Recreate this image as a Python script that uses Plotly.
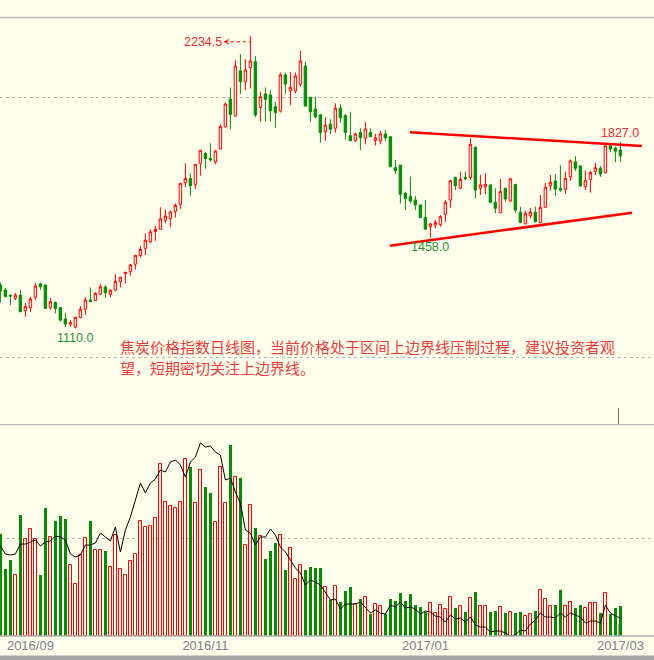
import plotly.graph_objects as go

# ---------------- data ----------------
opens = [1277, 1258, 1238, 1226, 1238, 1178, 1190, 1230, 1281, 1277,
         1191, 1210, 1190, 1146, 1127, 1115, 1152, 1184, 1219, 1217,
         1242, 1269, 1241, 1257, 1290, 1320, 1328, 1357, 1390, 1418,
         1443, 1483, 1491, 1526, 1533, 1560, 1587, 1670, 1687, 1664,
         1745, 1783, 1764, 1750, 1800, 1885, 1992, 1928, 2101, 2059,
         2113, 2136, 1960, 2012, 2008, 1963, 1946, 2085, 2024, 2023,
         2049, 2119, 1999, 1954, 1931, 1867, 1896, 1880, 1957, 1928,
         1851, 1832, 1863, 1841, 1863, 1833, 1831, 1858, 1847, 1728,
         1738, 1630, 1617, 1604, 1585, 1537, 1501, 1508, 1510, 1549,
         1604, 1690, 1649, 1691, 1690, 1807, 1649, 1654, 1662, 1595,
         1555, 1649, 1600, 1664, 1557, 1512, 1543, 1557, 1517, 1576,
         1659, 1677, 1649, 1645, 1693, 1751, 1735, 1655, 1683, 1713,
         1726, 1709, 1812, 1803, 1796]
highs = [1286, 1265, 1239, 1246, 1258, 1208, 1232, 1285, 1286, 1279,
         1227, 1213, 1190, 1170, 1142, 1155, 1196, 1230, 1268, 1250,
         1281, 1277, 1260, 1319, 1309, 1326, 1358, 1392, 1427, 1476,
         1491, 1504, 1576, 1568, 1563, 1591, 1670, 1745, 1707, 1742,
         1796, 1788, 1822, 1796, 1895, 1978, 2037, 2142, 2165, 2146,
         2234.5, 2158, 2020, 2037, 2027, 1982, 2094, 2094, 2095, 2094,
         2178, 2136, 2001, 2001, 1935, 1922, 1915, 1976, 1972, 1935,
         1943, 1863, 1880, 1903, 1880, 1858, 1869, 1873, 1848, 1758,
         1739, 1636, 1694, 1620, 1586, 1604, 1515, 1527, 1546, 1604,
         1681, 1694, 1713, 1713, 1841, 1808, 1700, 1707, 1663, 1649,
         1685, 1651, 1690, 1665, 1578, 1562, 1574, 1578, 1623, 1670,
         1700, 1704, 1738, 1713, 1760, 1773, 1736, 1717, 1717, 1747,
         1735, 1819, 1819, 1809, 1827]
lows = [1209, 1231, 1200, 1219, 1174, 1155, 1174, 1219, 1258, 1185,
        1181, 1168, 1136, 1114, 1117, 1110, 1149, 1162, 1212, 1215,
        1238, 1227, 1230, 1255, 1268, 1283, 1313, 1337, 1382, 1392,
        1440, 1447, 1490, 1514, 1499, 1536, 1570, 1653, 1620, 1647,
        1697, 1724, 1751, 1742, 1799, 1883, 1876, 1924, 2012, 2027,
        2033, 1922, 1905, 1905, 1905, 1882, 1940, 2012, 1969, 2014,
        2040, 1965, 1905, 1918, 1824, 1832, 1857, 1863, 1901, 1837,
        1832, 1828, 1796, 1818, 1847, 1813, 1818, 1831, 1731, 1704,
        1591, 1565, 1591, 1565, 1534, 1488, 1458, 1495, 1501, 1520,
        1574, 1642, 1645, 1681, 1681, 1610, 1623, 1626, 1594, 1553,
        1554, 1597, 1597, 1555, 1514, 1511, 1533, 1518, 1514, 1575,
        1640, 1619, 1636, 1626, 1677, 1715, 1655, 1642, 1632, 1700,
        1693, 1706, 1787, 1749, 1751]
closes = [1254, 1232, 1235, 1238, 1174, 1194, 1223, 1273, 1270, 1187,
          1213, 1187, 1142, 1127, 1132, 1153, 1184, 1219, 1213, 1245,
          1270, 1247, 1257, 1291, 1307, 1326, 1354, 1391, 1414, 1449,
          1481, 1491, 1531, 1542, 1558, 1583, 1668, 1687, 1659, 1741,
          1795, 1763, 1758, 1792, 1886, 1973, 1933, 2119, 2059, 2104,
          2138, 1931, 2001, 1991, 1947, 1940, 2085, 2050, 2037, 2081,
          2138, 1965, 1943, 1924, 1863, 1892, 1876, 1957, 1920, 1864,
          1832, 1858, 1843, 1877, 1847, 1843, 1858, 1843, 1732, 1717,
          1626, 1610, 1600, 1585, 1536, 1492, 1512, 1517, 1540, 1595,
          1678, 1659, 1683, 1685, 1818, 1642, 1662, 1664, 1595, 1572,
          1636, 1608, 1685, 1565, 1518, 1553, 1557, 1520, 1576, 1653,
          1672, 1646, 1642, 1687, 1754, 1726, 1658, 1678, 1709, 1728,
          1704, 1812, 1800, 1792, 1774]
# volume (thousand lots) and open interest (scaled) for the lower panel
volume = [102, 67, 76, 61, 121, 97, 107, 97, 61, 128,
          99, 115, 120, 117, 71, 52, 81, 98, 115, 86,
          86, 85, 69, 101, 67, 61, 75, 82, 115, 109,
          110, 118, 172, 134, 130, 128, 134, 177, 169, 133,
          166, 149, 143, 114, 169, 133, 191, 159, 158, 91,
          131, 108, 100, 77, 85, 93, 101, 66, 88, 57,
          71, 66, 69, 68, 68, 49, 36, 50, 34, 45,
          49, 32, 37, 39, 22, 32, 30, 22, 37, 35,
          43, 35, 42, 31, 29, 24, 33, 23, 31, 27,
          39, 28, 30, 24, 38, 44, 30, 30, 24, 25,
          29, 23, 24, 23, 24, 20, 22, 25, 46, 37,
          30, 31, 46, 30, 34, 28, 31, 28, 33, 33,
          23, 43, 22, 28, 30]
open_interest = [90, 82, 81, 82, 92, 92, 94, 96, 90, 94,
                 95, 100, 99, 96, 82, 79, 81, 91, 91, 93,
                 103, 99, 95, 109, 84, 106, 119, 136, 153, 143,
                 153, 157, 166, 164, 174, 176, 171, 159, 174, 179,
                 193, 189, 190, 184, 181, 156, 158, 144, 133, 106,
                 103, 91, 99, 99, 107, 101, 89, 84, 76, 68,
                 63, 51, 56, 54, 51, 43, 36, 37, 27, 32,
                 32, 32, 34, 29, 23, 26, 23, 22, 31, 29,
                 34, 28, 29, 27, 22, 25, 24, 20, 19, 14,
                 21, 17, 18, 14, 19, 11, 9, 9, 4, 5,
                 5, 3, 0, 1, 6, 5, 12, 16, 23, 19,
                 19, 18, 23, 19, 23, 21, 19, 13, 15, 15,
                 13, 31, 23, 20, 18]
tick_index = [6, 41, 85, 124]
tick_labels = ["2016/09", "2016/11", "2017/01", "2017/03"]
# hand-drawn channel lines: (bar index, price) end points
upper_line_x = [81.9, 128.3]
upper_line_y = [1864, 1812]
lower_line_x = [77.9, 126.3]
lower_line_y = [1428, 1555]
# marked extremes: (bar index, price, label)
peak = (50, 2234.5, "2234.5")
low1 = (15, 1110.0, "1110.0")
low2 = (86, 1458.0, "1458.0")
high2 = (124, 1827.0, "1827.0")
note_line1 = "焦炭价格指数日线图，当前价格处于区间上边界线压制过程，建议投资者观"
note_line2 = "望，短期密切关注上边界线。"

# ---------------- style ----------------
W, H = 654, 660
BG = "#FFFFEC"
RED = "#FF0000"
GREEN = "#088C08"
TXT_RED = "#EE2A36"
TXT_GREEN = "#1F963C"
GRID = "#B4B4B4"


def py(px):  # pixel row -> paper fraction
    return 1 - px / H


idx = list(range(len(opens)))
up = [c >= o for o, c in zip(opens, closes)]

fig = go.Figure()
fig.add_trace(go.Candlestick(
    x=idx, open=opens, high=highs, low=lows, close=closes,
    increasing=dict(line=dict(color=RED, width=1), fillcolor=BG),
    decreasing=dict(line=dict(color=GREEN, width=1), fillcolor=GREEN),
    whiskerwidth=0, showlegend=False, hoverinfo="skip", yaxis="y"))

fig.add_trace(go.Bar(
    x=[i for i in idx if up[i]], y=[volume[i] for i in idx if up[i]],
    width=0.55, marker=dict(color=BG, line=dict(color=RED, width=1)),
    yaxis="y2", showlegend=False, hoverinfo="skip"))
fig.add_trace(go.Bar(
    x=[i for i in idx if not up[i]], y=[volume[i] for i in idx if not up[i]],
    width=0.6, marker=dict(color=GREEN, line=dict(color=GREEN, width=0)),
    yaxis="y2", showlegend=False, hoverinfo="skip"))
fig.add_trace(go.Scatter(
    x=idx, y=open_interest, mode="lines", line=dict(color="#000000", width=1),
    yaxis="y2", showlegend=False, hoverinfo="skip"))

# channel lines
for xs, ys in [(upper_line_x, upper_line_y), (lower_line_x, lower_line_y)]:
    fig.add_trace(go.Scatter(x=xs, y=ys, mode="lines",
                             line=dict(color=RED, width=2.5),
                             yaxis="y", showlegend=False, hoverinfo="skip"))

shapes = []
# panel frame lines
for yy, col in [(17.5, "#BBBBBB"), (424.7, "#BBBBBB"), (636, "#B0B0B0")]:
    shapes.append(dict(type="line", xref="paper", yref="paper", x0=0, x1=1,
                       y0=py(yy), y1=py(yy), line=dict(color=col, width=1.3)))
shapes.append(dict(type="rect", xref="paper", yref="paper", x0=0, x1=1,
                   y0=0, y1=py(655.5), fillcolor="#A6A6A6", line=dict(width=0)))
# cursor ticks
shapes.append(dict(type="line", xref="paper", yref="paper", x0=618.5 / W, x1=618.5 / W,
                   y0=py(408), y1=py(424), line=dict(color="#707070", width=1)))
shapes.append(dict(type="line", xref="paper", yref="paper", x0=618.5 / W, x1=618.5 / W,
                   y0=py(624), y1=py(636), line=dict(color="#A0A0A0", width=1)))
# dashed leader for the peak label
shapes.append(dict(type="line", xref="x", yref="y", x0=peak[0] - 5.1, x1=peak[0] - 0.1,
                   y0=peak[1] - 22, y1=peak[1] - 22,
                   line=dict(color=RED, width=1, dash="dot")))

ann = []
NUMFONT = "Liberation Sans"
ann.append(dict(x=peak[0] - 5.3, y=peak[1] - 22, xref="x", yref="y", text=peak[2],
                showarrow=False, xanchor="right", yanchor="middle",
                font=dict(family=NUMFONT, size=12.5, color=TXT_RED)))
ann.append(dict(x=peak[0] - 5.35, y=peak[1] - 22, xref="x", yref="y", text="",
                showarrow=True, ax=peak[0] - 4.3, ay=peak[1] - 22, axref="x", ayref="y",
                arrowhead=5, arrowsize=0.9, arrowwidth=1, arrowcolor=RED))
ann.append(dict(x=low1[0], y=low1[1], xref="x", yref="y", text=low1[2], showarrow=False,
                yshift=-10, font=dict(family=NUMFONT, size=12.5, color=TXT_GREEN)))
ann.append(dict(x=low2[0], y=low2[1], xref="x", yref="y", text=low2[2], showarrow=False,
                yshift=-9, font=dict(family=NUMFONT, size=12.5, color=TXT_GREEN)))
ann.append(dict(x=high2[0], y=high2[1], xref="x", yref="y", text=high2[2], showarrow=False,
                yshift=9, font=dict(family=NUMFONT, size=12.5, color=TXT_RED)))
for txt, yy in [(note_line1, 346), (note_line2, 367)]:
    ann.append(dict(x=118 / W, y=py(yy), xref="paper", yref="paper", text=txt,
                    showarrow=False, xanchor="left", yanchor="middle",
                    font=dict(family="Noto Sans CJK SC", size=15, color="#F03C3C")))

fig.update_layout(
    width=W, height=H, margin=dict(l=0, r=0, t=0, b=0),
    paper_bgcolor=BG, plot_bgcolor=BG, barmode="overlay", bargap=0,
    showlegend=False, shapes=shapes, annotations=ann,
    xaxis=dict(range=[-0.08, 130.72], anchor="y2", showgrid=False, zeroline=False,
               showline=False, ticks="", tickvals=tick_index, ticktext=tick_labels,
               tickfont=dict(family=NUMFONT, size=13, color="#7E8090"),
               rangeslider=dict(visible=False), fixedrange=True),
    yaxis=dict(domain=[py(424), py(17)], range=[742.4, 2307.7], tickvals=[1000, 2000],
               showticklabels=False, showgrid=True, gridcolor=GRID, griddash="dot",
               gridwidth=1, zeroline=False, showline=False),
    yaxis2=dict(domain=[py(636), py(424)], range=[0, 212], tickvals=[98],
                showticklabels=False, showgrid=True, gridcolor=GRID, griddash="dot",
                gridwidth=1, zeroline=False, showline=False),
)

fig.write_html("out.html")
